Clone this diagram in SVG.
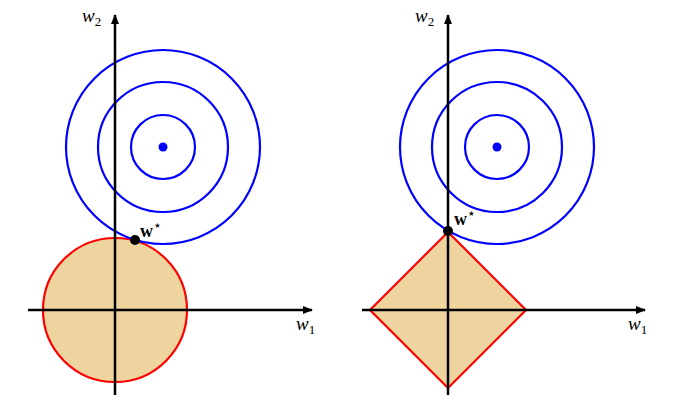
<svg xmlns="http://www.w3.org/2000/svg" width="686" height="418" viewBox="0 0 686 418">
<style>
.ax{stroke:#000;stroke-width:2.5;fill:none}
.c{stroke:#0000ff;stroke-width:2.2;fill:none}
.r{stroke:#ff0000;stroke-width:2.2;fill:#eed49e}
.t{font-family:"Liberation Serif",serif;font-size:19px;font-style:italic}
.s{font-size:13px}
.st{font-family:"DejaVu Sans",sans-serif;font-size:14px;font-weight:normal}
.b{font-family:"Liberation Serif",serif;font-size:18px;font-weight:bold}
</style>
<defs><marker id="a" markerWidth="10" markerHeight="8" refX="9" refY="4" orient="auto" markerUnits="userSpaceOnUse"><path d="M0,0L10,4L0,8z" fill="#000"/></marker></defs>
<rect width="686" height="418" fill="#fff"/>
<g id="left">
<circle class="r" cx="115" cy="310" r="72"/>
<circle class="c" cx="163" cy="147" r="32"/>
<circle class="c" cx="163" cy="147" r="65"/>
<circle class="c" cx="163" cy="147" r="97"/>
<circle cx="163" cy="147" r="4.5" fill="#0000ff"/>
</g>
<g id="right">
<path class="r" d="M448,232L526,310L448,388L370,310Z"/>
<circle class="c" cx="497" cy="147" r="32"/>
<circle class="c" cx="497" cy="147" r="65"/>
<circle class="c" cx="497" cy="147" r="97"/>
<circle cx="497" cy="147" r="4.5" fill="#0000ff"/>
</g>
<g id="connectors">
<line class="ax" x1="28" y1="310" x2="312" y2="310" marker-end="url(#a)"/>
<line class="ax" x1="115" y1="395" x2="115" y2="15" marker-end="url(#a)"/>
<line class="ax" x1="362" y1="310" x2="645" y2="310" marker-end="url(#a)"/>
<line class="ax" x1="448" y1="395" x2="448" y2="15" marker-end="url(#a)"/>
</g>
<g id="labels">
<circle cx="135" cy="240" r="5" fill="#000"/>
<circle cx="448" cy="231" r="5" fill="#000"/>
<text class="b" x="140" y="237">w<tspan class="st" dy="-7">⋆</tspan></text>
<text class="b" x="454" y="225">w<tspan class="st" dy="-7">⋆</tspan></text>
<text class="t" x="82" y="22">w<tspan class="s" font-style="normal" dy="4">2</tspan></text>
<text class="t" x="415" y="22">w<tspan class="s" font-style="normal" dy="4">2</tspan></text>
<text class="t" x="296" y="330">w<tspan class="s" font-style="normal" dy="4">1</tspan></text>
<text class="t" x="628" y="330">w<tspan class="s" font-style="normal" dy="4">1</tspan></text>
</g>
</svg>
